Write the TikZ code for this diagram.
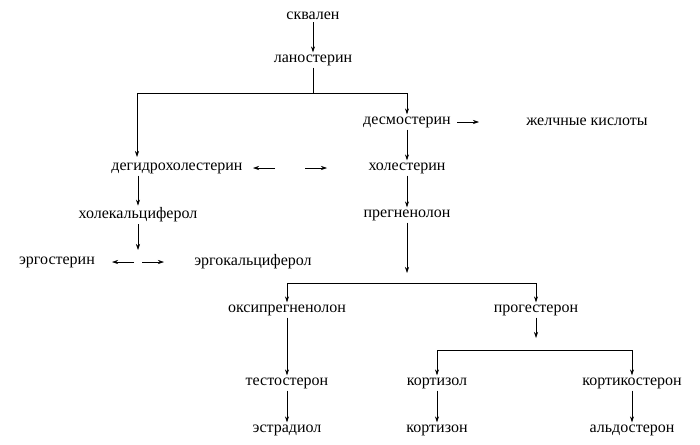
\documentclass[tikz,border=0pt]{standalone}
\usepackage{fontspec}
\setmainfont{Liberation Serif}
\usetikzlibrary{arrows.meta}

\begin{document}
\begin{tikzpicture}[x=1pt,y=-1pt,
>={Stealth[length=6pt,width=4pt]},
every node/.style={font=\fontsize{16}{19}\selectfont,inner sep=2pt}]
\tikzstyle{arr}=[->,line width=0.6pt]
\tikzstyle{ln}=[line width=0.6pt]
\useasboundingbox (0,0) rectangle (700,444);

\node (skv) at (313,16) {сквален};
\node (lan) at (313,60) {ланостерин};
\node (des) at (407,122) {десмостерин};
\node (zhel) at (587,122) {желчные кислоты};
\node (deg) at (177,168) {дегидрохолестерин};
\node (hol) at (407,168) {холестерин};
\node (hkal) at (138,215) {холекальциферол};
\node (preg) at (407,215) {прегненолон};
\node (erg) at (57,262) {эргостерин};
\node (ekal) at (253,262) {эргокальциферол};
\node (oks) at (287,310) {оксипрегненолон};
\node (prog) at (536,310) {прогестерон};
\node (test) at (287,383) {тестостерон};
\node (korl) at (437,383) {кортизол};
\node (kors) at (632,383) {кортикостерон};
\node (estr) at (287,430) {эстрадиол};
\node (kzon) at (437,430) {кортизон};
\node (ald) at (632,430) {альдостерон};

\coordinate (b1) at (313,93);
\coordinate (b1l) at (137,93);
\coordinate (b1r) at (407,93);
\draw[arr] (skv) -- (lan);
\draw[ln] (lan) -- (b1);
\draw[ln] (b1l) -- (b1r);
\draw[arr] (b1l) -- (137,157);
\draw[arr] (b1r) -- (des);
\draw[arr] (des.east) ++(4,0) -- ++(22,0);
\draw[arr] (des) -- (hol);
\draw[arr] (hol) -- (preg);
\draw[arr] (275,168) -- (253,168);
\draw[arr] (305,168) -- (327,168);
\draw[arr] (deg.south -| hkal) -- (hkal);
\draw[arr] (hkal) -- (138,250);
\draw[arr] (134,262) -- (112,262);
\draw[arr] (142,262) -- (164,262);

\draw[arr] (preg) -- (407,273);
\draw[ln] (287,283) -- (536,283);
\draw[arr] (287,283) -- (oks);
\draw[arr] (536,283) -- (prog);
\draw[arr] (oks) -- (test);
\draw[arr] (test) -- (estr);

\draw[arr] (prog) -- (536,338);
\draw[ln] (437,350) -- (632,350);
\draw[arr] (437,350) -- (korl);
\draw[arr] (632,350) -- (kors);
\draw[arr] (korl) -- (kzon);
\draw[arr] (kors) -- (ald);
\end{tikzpicture}
\end{document}
